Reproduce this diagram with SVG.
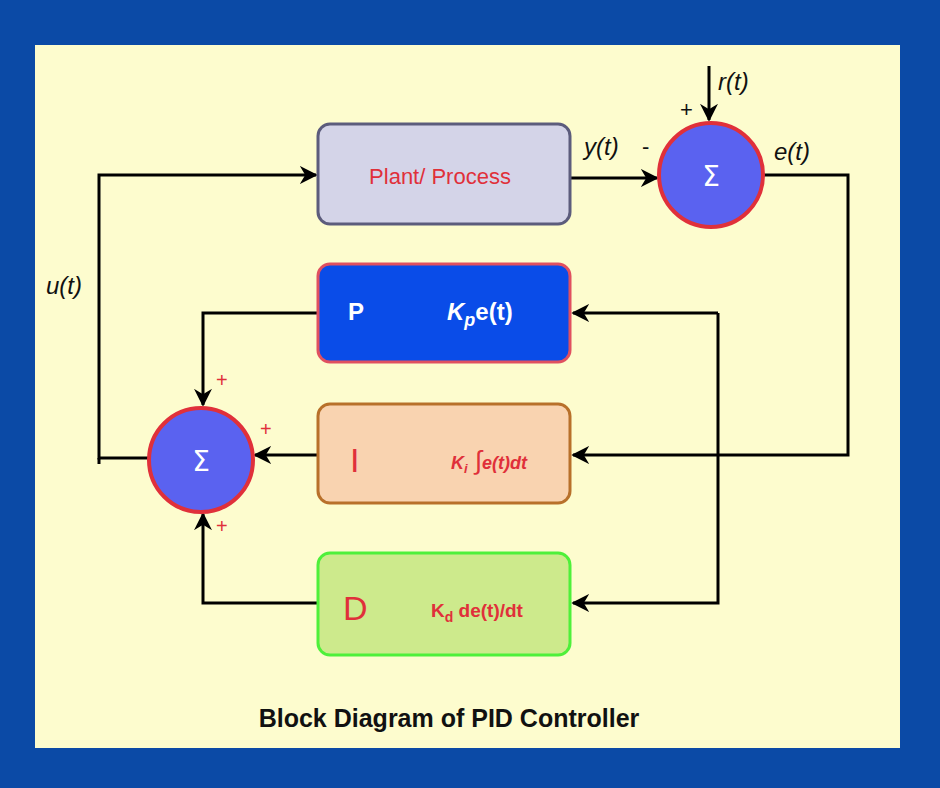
<svg xmlns="http://www.w3.org/2000/svg" width="940" height="788" viewBox="0 0 940 788">
<style>
.w{stroke:#000;stroke-width:3;fill:none}
.lb{font-family:"Liberation Sans",Arial,sans-serif;font-size:24px;font-style:italic;fill:#111}
.pm{font-family:"Liberation Sans",Arial,sans-serif;font-size:20px;fill:#e0303a}
.sig{font-family:"DejaVu Sans",sans-serif;font-size:28px;fill:#fff}
</style>
<defs><marker id="a" viewBox="0 0 10 10" refX="9" refY="5" markerWidth="6" markerHeight="6" markerUnits="strokeWidth" orient="auto"><path d="M0,0 L10,5 L0,10 L3,5 z" fill="#000"/></marker></defs>
<rect width="940" height="788" fill="#0b4aa6"/>
<rect x="35" y="45" width="865" height="703" fill="#fdfcce"/>
<g id="connectors" class="w">
<path d="M709,66 V120" marker-end="url(#a)"/>
<path d="M570,178 H657" marker-end="url(#a)"/>
<path d="M763,175 H848 V455 H573" marker-end="url(#a)"/>
<path d="M718,313 H573" marker-end="url(#a)"/>
<path d="M718,313 V603 H573" marker-end="url(#a)"/>
<path d="M318,313 H203 V405" marker-end="url(#a)"/>
<path d="M318,603 H203 V514" marker-end="url(#a)"/>
<path d="M318,455 H255" marker-end="url(#a)"/>
<path d="M149,458 H99 V175 H316" marker-end="url(#a)"/>
<path d="M99,458 V464"/>
</g>
<g id="plant"><rect x="318" y="124" width="252" height="100" rx="12" fill="#d4d4e8" stroke="#5c5c7c" stroke-width="3"/><text x="440" y="184" text-anchor="middle" font-family="Liberation Sans,Arial,sans-serif" font-size="22" fill="#e0303a">Plant/ Process</text></g>
<g id="sum1"><circle cx="711" cy="175" r="52" fill="#5a62f0" stroke="#e0303a" stroke-width="4"/><text class="sig" x="711" y="186" text-anchor="middle">Σ</text></g>
<g id="sum2"><circle cx="201" cy="460" r="52" fill="#5a62f0" stroke="#e0303a" stroke-width="4"/><text class="sig" x="201" y="471" text-anchor="middle">Σ</text></g>
<g id="P"><rect x="318" y="264" width="252" height="98" rx="12" fill="#0a4ce8" stroke="#e05060" stroke-width="3"/><text x="348" y="320" font-family="Liberation Sans,Arial,sans-serif" font-size="24" font-weight="bold" fill="#fff">P</text><text x="447" y="320" font-family="Liberation Sans,Arial,sans-serif" font-size="24" font-weight="bold" fill="#fff"><tspan font-style="italic">K</tspan><tspan font-style="italic" font-size="18" dy="6">p</tspan><tspan dy="-6">e(t)</tspan></text></g>
<g id="I"><rect x="318" y="404" width="252" height="99" rx="12" fill="#f9d3b0" stroke="#b8702a" stroke-width="3"/><text x="350" y="472" font-family="Liberation Sans,Arial,sans-serif" font-size="34" fill="#e0303a">I</text><text x="451" y="469" font-family="Liberation Sans,Arial,sans-serif" font-size="18" font-weight="bold" font-style="italic" fill="#e0303a">K<tspan font-size="13" dy="4">i</tspan><tspan dy="-4" font-weight="normal" font-size="26"> ∫</tspan>e(t)dt</text></g>
<g id="D"><rect x="318" y="553" width="252" height="102" rx="12" fill="#cdea8c" stroke="#4ef03a" stroke-width="3"/><text x="343" y="620" font-family="Liberation Sans,Arial,sans-serif" font-size="34" fill="#e0303a">D</text><text x="431" y="617" font-family="Liberation Sans,Arial,sans-serif" font-size="19" font-weight="bold" fill="#e0303a">K<tspan font-size="14" dy="5">d</tspan><tspan dy="-5"> de(t)/dt</tspan></text></g>
<g id="labels">
<text class="lb" x="718" y="90">r(t)</text>
<text x="680" y="117" font-family="Liberation Sans,Arial,sans-serif" font-size="22" fill="#111">+</text>
<text class="lb" x="584" y="155">y(t)</text>
<text x="642" y="154" font-family="Liberation Sans,Arial,sans-serif" font-size="22" fill="#111">-</text>
<text class="lb" x="774" y="160">e(t)</text>
<text class="lb" x="46" y="294">u(t)</text>
<text class="pm" x="216" y="387">+</text>
<text class="pm" x="260" y="436">+</text>
<text class="pm" x="216" y="533">+</text>
<text x="449" y="727" text-anchor="middle" font-family="Liberation Sans,Arial,sans-serif" font-size="25" font-weight="bold" fill="#111">Block Diagram of PID Controller</text>
</g>
</svg>
